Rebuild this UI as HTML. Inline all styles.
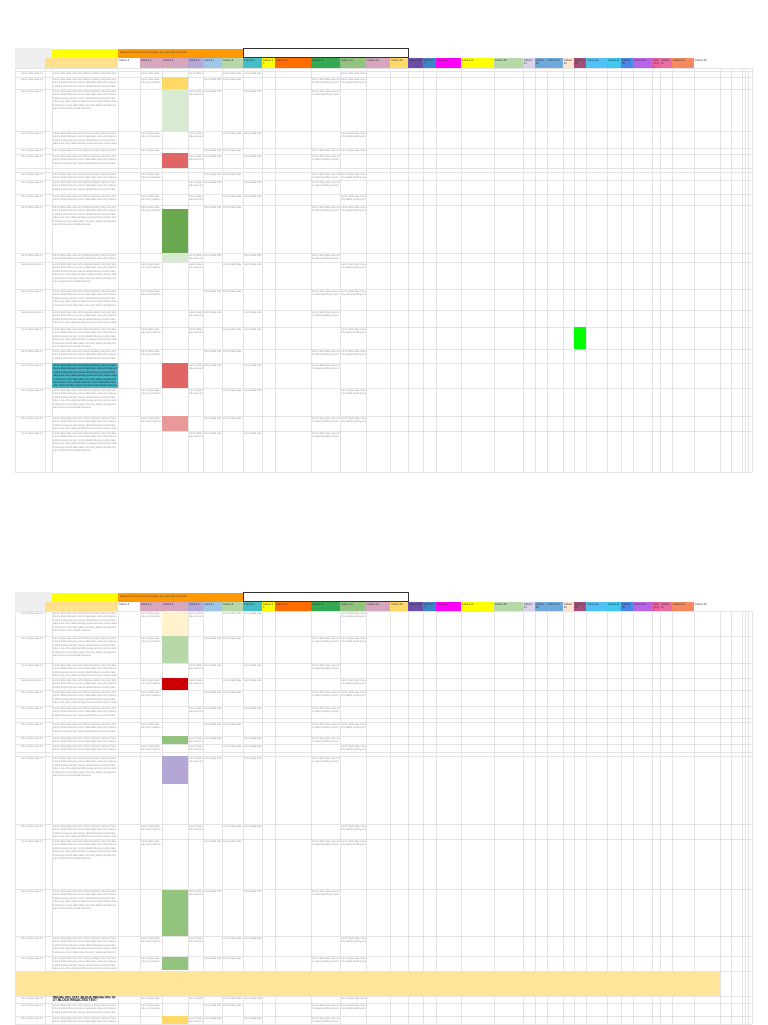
<!DOCTYPE html>
<html><head><meta charset="utf-8">
<style>
html,body{margin:0;padding:0;background:#fff;}
body{width:768px;height:1024px;position:relative;overflow:hidden;font-family:"Liberation Sans",sans-serif;}
.b{position:absolute;}
.vl{position:absolute;width:1px;background:#e4e4e4;}
.hl{position:absolute;height:1px;background:#e4e4e4;}
.t{position:absolute;font-size:2.4px;line-height:3.4px;color:#999;overflow:hidden;white-space:normal;word-break:break-all;}
</style></head>
<body>
<div id="root"></div>
<script>
const cols=[15,45,52,118,140,162,188,203,222,243,262,275,311,340,366,390,408,423,436,461,494,523,535,547,563,574,586,607,621,633,652,660,672,694,720,731,742,745,748,752];
const hdrColors=['#efefef','#ffe08f','#ffe08f','#ffffff','#d5a6bd','#d5a6bd','#b4a7d6','#9fc5e8','#b6d7a8','#46bdc6','#ffff00','#ff6d01','#34a853','#93c47d','#d5a6bd','#ffd966','#674ea7','#3d85c6','#ff00ff','#ffff00','#b6d7a8','#d9d2e9','#6fa8dc','#6fa8dc','#fce5cd','#a64d79','#4fc3f7','#42c5ef','#4a86e8','#b565e6','#ec5fa0','#e86fa1','#f4895f','#ffffff'];
const rows1=[68,71,77,89,131,148,154,168,172,180,194,205,253,262,289,310,327,349,363,388,416,431,472];
const rows2=[611,636,663,678,690,706,718,722,736,744,752,756,824,839,889,936,956,971,996,1003,1016,1024];
const blocks=[
 [162,77,26,12,'#ffd966'],[162,89,26,42,'#d9ead3'],[162,153,26,15,'#e06666'],
 [162,209,26,44,'#6aa84f'],[162,253,26,9,'#d9ead3'],[52,363,66,25,'#45b7c0'],
 [162,363,26,25,'#e06666'],[162,416,26,15,'#ea9999'],[574,327,12,22,'#00ff00'],
 [15,971,705,25,'#ffe599'],
 [162,611,26,25,'#fff2cc'],[162,636,26,27,'#b6d7a8'],[162,678,26,12,'#cc0000'],
 [162,736,26,8,'#93c47d'],[162,756,26,28,'#b4a7d6'],[162,890,26,46,'#93c47d'],
 [162,957,26,13,'#93c47d'],[162,1016,26,8,'#ffd966']
];
const filler='Lorem data value note entry status pending review text item source detail reference ';
const root=document.getElementById('root');
function box(x,y,w,h,bg,name){const d=document.createElement('div');d.className='b';d.style.cssText=`left:${x}px;top:${y}px;width:${w}px;height:${h}px;background:${bg}`;


root.appendChild(d);return d;}
function page(top,rows,pi){
 const bottom=rows[rows.length-1];
 box(15,top,37,20,'#efefef','corner-cell');
 box(52,top+1,66,9,'#ffff00','title-yellow');
 const o=box(118,top+1,125,9,'#ff9900','title-orange');
 o.innerHTML='<div class="t" style="left:2px;top:2px;width:120px;color:#444">Notes and comments section header, see sheet tabs for details</div>';
 const bx=box(243,top,166,10,'#fff','title-box');bx.style.border='1.5px solid #333';bx.style.boxSizing='border-box';
 for(let i=1;i<hdrColors.length&&i<cols.length-1;i++){
  const c=box(cols[i],top+10,cols[i+1]-cols[i],10,hdrColors[i],'header-cell');
  if(i>=3){c.innerHTML='<div class="t" style="left:1px;top:1px;width:'+(cols[i+1]-cols[i]-2)+'px;color:#333">Column '+(i)+'</div>';}
 }
 for(const x of cols){const v=document.createElement('div');v.className='vl';v.style.cssText=`left:${x}px;top:${top+20}px;height:${bottom-top-20}px`;
 
 
 root.appendChild(v);}
 for(const y of rows){const h=document.createElement('div');h.className='hl';h.style.cssText=`left:15px;top:${y}px;width:737px`;
 
 
 root.appendChild(h);}
 for(let r=0;r<rows.length-1;r++){
  const y=rows[r],h=rows[r+1]-y; if(h<5)continue;
  const cells=[[20,22,1],[52,64,Math.min(10,Math.floor(h/3.4))],[140,20,2],[188,14,2],[203,18,1],[222,20,1],[243,18,1],[311,28,2],[340,26,2]];
  cells.forEach((c,k)=>{if((r+k+pi)%3===2&&k>1)return;
   const t=document.createElement('div');t.className='t';
   const lines=Math.min(c[2],Math.floor((h-1)/3.4));
   t.style.cssText=`left:${c[0]+1}px;top:${y+1}px;width:${c[1]}px;height:${lines*3.4}px`;
   t.textContent=filler.repeat(4);
   
   
   root.appendChild(t);});
 }
}
page(48,rows1,0);
page(592,rows2,1);
blocks.forEach(b=>box(b[0],b[1],b[2],b[3],b[4],'highlight-cell'));
const tb=document.createElement('div');tb.className='t';tb.style.cssText='left:53px;top:364px;width:64px;height:23px;color:#224';tb.textContent=filler.repeat(6);


root.appendChild(tb);
const sb=document.createElement('div');sb.className='t';sb.style.cssText='left:53px;top:996px;width:64px;height:7px;color:#000;font-weight:bold;font-size:3.2px;line-height:3.4px';sb.textContent='REDACTED TEXT BLOCK REDACTED TEXT BLOCK REDACTED TEXT';


root.appendChild(sb);
</script>
</body></html>
